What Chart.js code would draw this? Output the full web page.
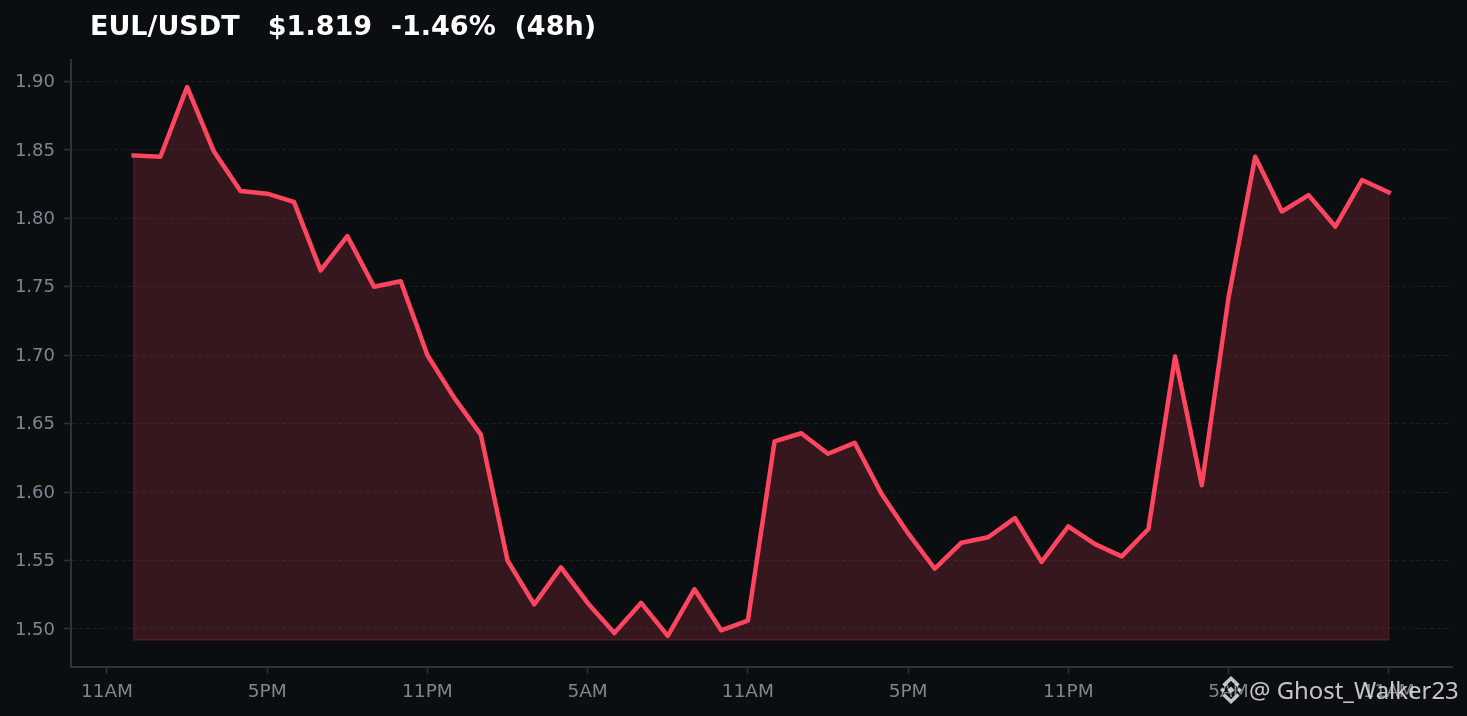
<!DOCTYPE html>
<html>
<head>
<meta charset="utf-8">
<title>EUL/USDT</title>
<script src="https://cdn.jsdelivr.net/npm/chart.js@4/dist/chart.umd.min.js"></script>
<style>
  html, body { margin: 0; padding: 0; background: #0b0e11; overflow: hidden; }
  #wrap { position: relative; width: 1467px; height: 716px; }
  #title { position: absolute; left: 90px; top: 8px; color: #fff; white-space: pre;
    font: bold 27px/36px "DejaVu Sans", sans-serif; }
  #mark { position: absolute; left: 1219px; top: 673px; height: 34px; color: rgba(226,226,226,.86);
    font: 23.9px/34px "Noto Sans", sans-serif; white-space: pre; display: flex; align-items: center; }
  #mark svg { margin-right: 6px; }
</style>
</head>
<body>
<div id="wrap">
  <canvas id="myChart" width="1467" height="716"></canvas>
  <div id="title">EUL/USDT   $1.819  -1.46%  (48h)</div>
  <div id="mark"><svg width="24" height="28" viewBox="0 0 24 28"><g fill="none" stroke="currentColor" stroke-width="3.6"><path d="M4.5 9.5 L12 2.5 L19.5 9.5"/><path d="M4.5 18.5 L12 25.5 L19.5 18.5"/></g><g fill="currentColor"><path d="M12 10.5 L15.5 14 L12 17.5 L8.5 14Z"/><path d="M3.5 11.5 L6 14 L3.5 16.5 L1 14Z"/><path d="M20.5 11.5 L23 14 L20.5 16.5 L18 14Z"/></g></svg>@ Ghost_Walker23</div>
</div>
<script>
const prices = [1.846, 1.845, 1.896, 1.849, 1.820, 1.818, 1.812, 1.762, 1.787, 1.750, 1.754, 1.700,
  1.669, 1.642, 1.550, 1.518, 1.545, 1.519, 1.497, 1.519, 1.495, 1.529, 1.499, 1.506,
  1.637, 1.643, 1.628, 1.636, 1.599, 1.570, 1.544, 1.563, 1.567, 1.581, 1.549, 1.575,
  1.562, 1.553, 1.573, 1.699, 1.605, 1.742, 1.845, 1.805, 1.817, 1.794, 1.828, 1.819];
const baseline = 1.492;
const xTickHours = [0, 6, 12, 18, 24, 30, 36, 42, 48];
const xTickLabels = ['11AM', '5PM', '11PM', '5AM', '11AM', '5PM', '11PM', '5AM', '11AM'];
const yTicks = [1.50, 1.55, 1.60, 1.65, 1.70, 1.75, 1.80, 1.85, 1.90];

const axisColor = '#2e333b';
const labelColor = '#7f8590';

const points = prices.map((v, i) => ({ x: i + 1, y: v }));
const last = points.length;

new Chart(document.getElementById('myChart').getContext('2d'), {
  type: 'line',
  data: {
    datasets: [{
      data: points,
      borderColor: '#ff4560',
      borderWidth: 4.5,
      borderJoinStyle: 'round',
      borderCapStyle: 'square',
      backgroundColor: 'rgba(255,69,90,0.175)',
      fill: { value: baseline },
      pointRadius: 0,
      tension: 0
    }, {
      // thin edge round the filled area
      data: [{ x: 1, y: prices[0] }, { x: 1, y: baseline }, { x: last, y: baseline }, { x: last, y: prices[last - 1] }],
      borderColor: 'rgba(255,69,96,0.2)',
      borderWidth: 1.5,
      fill: false,
      pointRadius: 0,
      tension: 0
    }]
  },
  options: {
    responsive: false,
    animation: false,
    layout: { padding: { top: 60, right: 15, left: 0, bottom: 0 } },
    plugins: { legend: { display: false }, title: { display: false }, tooltip: { enabled: false } },
    scales: {
      x: {
        type: 'linear',
        min: -1.348,
        max: 50.37,
        afterBuildTicks: axis => { axis.ticks = xTickHours.map(h => ({ value: h })); },
        afterFit: axis => { axis.height = 49; },
        ticks: {
          color: labelColor,
          font: { family: 'DejaVu Sans', size: 18.5 },
          padding: 7,
          maxRotation: 0,
          autoSkip: false,
          callback: v => xTickLabels[xTickHours.indexOf(v)]
        },
        border: { color: axisColor, width: 2 },
        grid: { drawOnChartArea: false, color: axisColor, tickColor: axisColor, tickLength: 7, tickWidth: 1.5 }
      },
      y: {
        min: 1.4722,
        max: 1.9157,
        afterBuildTicks: axis => { axis.ticks = yTicks.map(v => ({ value: v })); },
        afterFit: axis => { axis.width = 71; },
        ticks: {
          color: labelColor,
          font: { family: 'DejaVu Sans', size: 18 },
          padding: 9,
          labelOffset: 1,
          autoSkip: false,
          callback: v => v.toFixed(2)
        },
        border: { color: axisColor, width: 2, dash: [4, 3] },
        grid: { color: 'rgba(255,255,255,0.07)', lineWidth: 1, tickColor: axisColor, tickLength: 7, tickWidth: 1.5, tickBorderDash: [] },
      }
    }
  }
});
</script>
</body>
</html>
